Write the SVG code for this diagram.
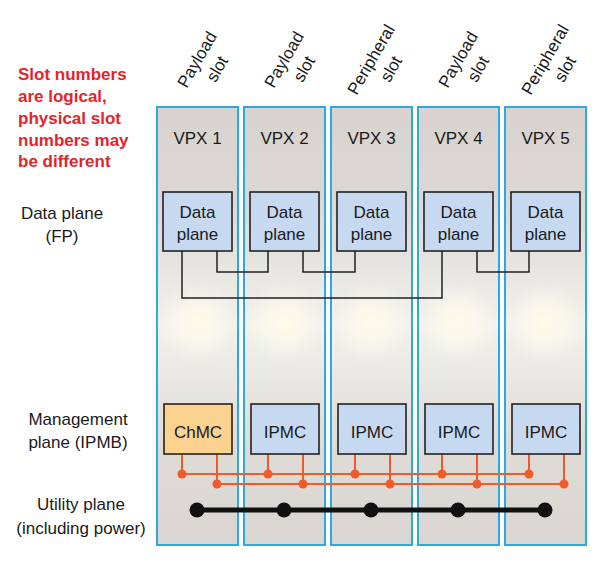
<svg xmlns="http://www.w3.org/2000/svg" width="595" height="562" viewBox="0 0 595 562">
<defs>
<linearGradient id="slotbg" x1="0" y1="0" x2="0" y2="1">
<stop offset="0" stop-color="#d8d3ce"/>
<stop offset="0.2" stop-color="#dbd7d2"/>
<stop offset="0.5" stop-color="#f2f1ec"/>
<stop offset="0.78" stop-color="#dfdbd6"/>
<stop offset="1" stop-color="#d9d5d1"/>
</linearGradient>
<radialGradient id="spot" cx="0.5" cy="0.5" r="0.5">
<stop offset="0" stop-color="#fffbe8" stop-opacity="0.95"/>
<stop offset="0.5" stop-color="#fdfbee" stop-opacity="0.6"/>
<stop offset="1" stop-color="#f6f5ef" stop-opacity="0"/>
</radialGradient>
</defs>
<style>
text{font-family:"Liberation Sans",Arial,sans-serif;font-size:17px;fill:#1a1a1a}
.c{text-anchor:middle}
.red{fill:#e3242b;font-weight:bold}
.slot{fill:url(#slotbg);stroke:#2ea9df;stroke-width:2}
.spot{fill:url(#spot)}
.dp{fill:#c6d9f1;stroke:#222;stroke-width:1.6}
.ch{fill:#fcd290;stroke:#222;stroke-width:1.6}
.dl{fill:none;stroke:#222;stroke-width:1.5}
.ol{fill:none;stroke:#f15a29;stroke-width:2}
.od{fill:#f15a29}
.bl{stroke:#111;stroke-width:5;stroke-linecap:round}
.bd{fill:#111}
</style>

<g id="note">
<text class="red" x="18" y="80">Slot numbers</text>
<text class="red" x="18" y="102">are logical,</text>
<text class="red" x="18" y="124">physical slot</text>
<text class="red" x="18" y="146">numbers may</text>
<text class="red" x="18" y="167">be different</text>
</g>

<g id="rowlabels">
<text class="c" x="62" y="219">Data plane</text>
<text class="c" x="62" y="242">(FP)</text>
<text class="c" x="78" y="425">Management</text>
<text class="c" x="78" y="448">plane (IPMB)</text>
<text class="c" x="81" y="510">Utility plane</text>
<text class="c" x="81" y="534">(including power)</text>
</g>

<g id="slotlabels">
<g transform="translate(202,62.5) rotate(-60)"><text class="c" x="0" y="0">Payload</text><text class="c" x="2" y="22">slot</text></g>
<g transform="translate(289,62.5) rotate(-60)"><text class="c" x="0" y="0">Payload</text><text class="c" x="2" y="22">slot</text></g>
<g transform="translate(376,62.5) rotate(-60)"><text class="c" x="0" y="0">Peripheral</text><text class="c" x="2" y="22">slot</text></g>
<g transform="translate(463,62.5) rotate(-60)"><text class="c" x="0" y="0">Payload</text><text class="c" x="2" y="22">slot</text></g>
<g transform="translate(550,62.5) rotate(-60)"><text class="c" x="0" y="0">Peripheral</text><text class="c" x="2" y="22">slot</text></g>
</g>

<g id="slot1">
<rect class="slot" x="157" y="107" width="81" height="438"/>
<circle class="spot" cx="197.5" cy="323" r="42"/>
<text class="c" x="197.5" y="144">VPX 1</text>
</g>
<g id="slot2">
<rect class="slot" x="244" y="107" width="81" height="438"/>
<circle class="spot" cx="284.5" cy="323" r="42"/>
<text class="c" x="284.5" y="144">VPX 2</text>
</g>
<g id="slot3">
<rect class="slot" x="331" y="107" width="81" height="438"/>
<circle class="spot" cx="371.5" cy="323" r="42"/>
<text class="c" x="371.5" y="144">VPX 3</text>
</g>
<g id="slot4">
<rect class="slot" x="418" y="107" width="81" height="438"/>
<circle class="spot" cx="458.5" cy="323" r="42"/>
<text class="c" x="458.5" y="144">VPX 4</text>
</g>
<g id="slot5">
<rect class="slot" x="505" y="107" width="81" height="438"/>
<circle class="spot" cx="545.5" cy="323" r="42"/>
<text class="c" x="545.5" y="144">VPX 5</text>
</g>

<g id="connectors">
<path class="dl" d="M217 251V272H268V251"/>
<path class="dl" d="M303 251V272H355V251"/>
<path class="dl" d="M477 251V272H529V251"/>
<path class="dl" d="M182 251V298H442V251"/>
<path class="ol" d="M182 454V474M268 454V474M355 454V474M442 454V474M529 454V474M182 474H529"/>
<path class="ol" d="M217 454V484M303 454V484M390 454V484M477 454V484M564 454V484M217 484H564"/>
<g class="od">
<circle cx="182" cy="474" r="4.5"/><circle cx="268" cy="474" r="4.5"/><circle cx="355" cy="474" r="4.5"/><circle cx="442" cy="474" r="4.5"/><circle cx="529" cy="474" r="4.5"/>
<circle cx="217" cy="484" r="4.5"/><circle cx="303" cy="484" r="4.5"/><circle cx="390" cy="484" r="4.5"/><circle cx="477" cy="484" r="4.5"/><circle cx="564" cy="484" r="4.5"/>
</g>
<line class="bl" x1="197" y1="510" x2="545" y2="510"/>
<g class="bd">
<circle cx="197" cy="510" r="7.5"/><circle cx="284" cy="510" r="7.5"/><circle cx="371" cy="510" r="7.5"/><circle cx="458" cy="510" r="7.5"/><circle cx="545" cy="510" r="7.5"/>
</g>
</g>

<g id="dp1"><rect class="dp" x="163" y="192" width="69" height="59"/><text class="c" x="197.5" y="218">Data</text><text class="c" x="197.5" y="240">plane</text></g>
<g id="dp2"><rect class="dp" x="250" y="192" width="69" height="59"/><text class="c" x="284.5" y="218">Data</text><text class="c" x="284.5" y="240">plane</text></g>
<g id="dp3"><rect class="dp" x="337" y="192" width="69" height="59"/><text class="c" x="371.5" y="218">Data</text><text class="c" x="371.5" y="240">plane</text></g>
<g id="dp4"><rect class="dp" x="424" y="192" width="69" height="59"/><text class="c" x="458.5" y="218">Data</text><text class="c" x="458.5" y="240">plane</text></g>
<g id="dp5"><rect class="dp" x="511" y="192" width="69" height="59"/><text class="c" x="545.5" y="218">Data</text><text class="c" x="545.5" y="240">plane</text></g>

<g id="chmc"><rect class="ch" x="164" y="404" width="68" height="50"/><text class="c" x="198" y="438">ChMC</text></g>
<g id="ipmc2"><rect class="dp" x="251" y="404" width="68" height="50"/><text class="c" x="285" y="438">IPMC</text></g>
<g id="ipmc3"><rect class="dp" x="338" y="404" width="68" height="50"/><text class="c" x="372" y="438">IPMC</text></g>
<g id="ipmc4"><rect class="dp" x="425" y="404" width="68" height="50"/><text class="c" x="459" y="438">IPMC</text></g>
<g id="ipmc5"><rect class="dp" x="512" y="404" width="68" height="50"/><text class="c" x="546" y="438">IPMC</text></g>
</svg>
